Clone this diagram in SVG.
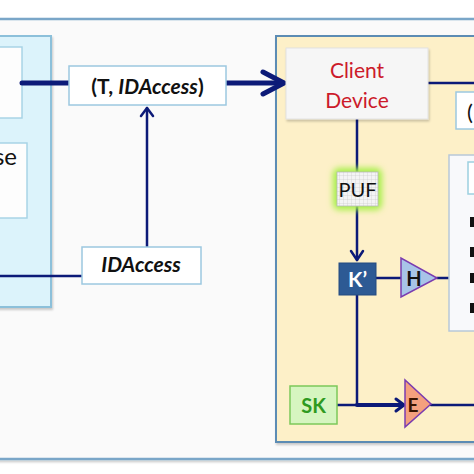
<svg xmlns="http://www.w3.org/2000/svg" width="474" height="474" viewBox="0 0 474 474">
<defs>
<style>
.conn{stroke:#0c1a78;fill:none;stroke-linecap:round;stroke-linejoin:round}
.box{fill:#ffffff;stroke:#9cc8e0;stroke-width:1.5}
.t{font-family:Lato,"Open Sans","Liberation Sans",sans-serif}
.tri{stroke:#7a3cb0;stroke-width:1.5}
</style>
<pattern id="grid" width="4" height="4" patternUnits="userSpaceOnUse">
<rect width="4" height="4" fill="#f4f4f4"/>
<path d="M4 0V4M0 4H4" stroke="#c4c4c4" stroke-width="0.6" fill="none"/>
</pattern>
<filter id="glow" x="-50%" y="-50%" width="200%" height="200%">
<feGaussianBlur stdDeviation="3"/>
</filter>
<filter id="sh" x="-10%" y="-10%" width="120%" height="120%">
<feDropShadow dx="1" dy="2" stdDeviation="1.2" flood-color="#000" flood-opacity="0.2"/>
</filter>
</defs>
<rect width="474" height="474" fill="#ffffff"/>
<g id="frame">
<rect x="-10" y="19" width="500" height="440" fill="#fafafa" stroke="#7aa6c8" stroke-width="2.5" filter="url(#sh)"/>
</g>
<g id="left-panel">
<rect x="-10" y="36" width="61" height="271" fill="#dcf3fb" stroke="#8cc0da" stroke-width="2" filter="url(#sh)"/>
<rect x="-10" y="47" width="32" height="71" fill="#fdfdfd" stroke="#a8d4e6" stroke-width="1.5"/>
<rect x="-10" y="143" width="37" height="75" fill="#fdfdfd" stroke="#a8d4e6" stroke-width="1.5"/>
<text class="t" x="17" y="165" font-size="24" text-anchor="end" fill="#111">se</text>
</g>
<g id="right-panel">
<rect x="276" y="36" width="220" height="406" fill="#fdf0c8" stroke="#5b8cb4" stroke-width="2" filter="url(#sh)"/>
</g>
<g id="connectors">
<path class="conn" d="M22 83H69" stroke-width="5"/>
<path class="conn" d="M226 83H282" stroke-width="5"/>
<path class="conn" d="M263 72L284 83L263 94" stroke-width="5"/>
<path class="conn" d="M147 247V108" stroke-width="2.5"/>
<path class="conn" d="M141 116L147 108L153 116" stroke-width="2.5"/>
<path class="conn" d="M-5 276H82" stroke-width="2.5"/>
<path class="conn" d="M428 83H480" stroke-width="2.5"/>
<path class="conn" d="M357 119V172M357 206V260" stroke-width="2.5"/>
<path class="conn" d="M351 251L357 260L363 251" stroke-width="2.5"/>
<path class="conn" d="M376 278H401" stroke-width="2.5"/>
<path class="conn" d="M437 278H463" stroke-width="2.5"/>
<path class="conn" d="M457 272L464 278L457 284" stroke-width="2.5"/>
<path class="conn" d="M357 295V405M337 405H357" stroke-width="2.5"/>
<path class="conn" d="M357 405H402" stroke-width="4"/>
<path class="conn" d="M396 399L404 405L396 411" stroke-width="3"/>
<path class="conn" d="M431 405H480" stroke-width="2.5"/>
</g>
<g id="t-idaccess">
<rect class="box" x="69" y="66" width="157" height="39"/>
<text class="t" x="147.5" y="94" font-size="21" font-weight="bold" text-anchor="middle" fill="#111">(T, <tspan font-style="italic">IDAccess</tspan>)</text>
</g>
<g id="idaccess">
<rect class="box" x="82" y="247" width="119" height="37"/>
<text class="t" x="141" y="272" font-size="21" font-weight="bold" font-style="italic" text-anchor="middle" fill="#111">IDAccess</text>
</g>
<g id="client-device">
<rect x="286" y="48" width="142" height="71" fill="#f6f6f6" stroke="#e2e2e2" stroke-width="1" filter="url(#sh)"/>
<text class="t" x="357" y="78" font-size="21" text-anchor="middle" fill="#cc1a2a">Client</text>
<text class="t" x="357" y="108" font-size="21" text-anchor="middle" fill="#cc1a2a">Device</text>
</g>
<g id="paren-box">
<rect class="box" x="456" y="92" width="30" height="37"/>
<text class="t" x="467" y="120" font-size="22" fill="#111">(</text>
</g>
<g id="list-box">
<rect x="449" y="155" width="40" height="176" fill="#f8f9fb" stroke="#b8c8d8" stroke-width="1.5"/>
<rect x="468" y="162" width="20" height="32" fill="#ffffff" stroke="#9cd0e0" stroke-width="1.5"/>
<rect x="470" y="217" width="6" height="10" fill="#111"/>
<rect x="470" y="247" width="6" height="10" fill="#111"/>
<rect x="470" y="273" width="6" height="10" fill="#111"/>
<rect x="470" y="303" width="6" height="10" fill="#111"/>
</g>
<g id="puf">
<rect x="333" y="168" width="49" height="42" rx="6" fill="#a6f046" filter="url(#glow)"/>
<rect x="337" y="172" width="41" height="34" fill="url(#grid)" stroke="#b8b8b8" stroke-width="0.8"/>
<text class="t" x="357.5" y="197" font-size="20" text-anchor="middle" fill="#111">PUF</text>
</g>
<g id="k-prime">
<rect x="339" y="263" width="37" height="32" fill="#2d5a94" stroke="#244a80" stroke-width="1"/>
<text class="t" x="357.5" y="287" font-size="21" font-weight="bold" text-anchor="middle" fill="#ffffff">K’</text>
</g>
<g id="h">
<polygon class="tri" points="401,258 401,297 437,278" fill="#a8c4e8"/>
<text class="t" x="414" y="286" font-size="20" font-weight="bold" text-anchor="middle" fill="#111">H</text>
</g>
<g id="sk">
<rect x="290" y="386" width="47" height="38" fill="#d6f5c0" stroke="#7cc85a" stroke-width="1.5"/>
<text class="t" x="313.5" y="413" font-size="20" font-weight="bold" text-anchor="middle" fill="#2e9a20">SK</text>
</g>
<g id="e">
<polygon class="tri" points="405,380 405,427 431,404" fill="#f4a07e"/>
<text class="t" x="413" y="412" font-size="19" font-weight="bold" text-anchor="middle" fill="#3a1400">E</text>
</g>
</svg>
